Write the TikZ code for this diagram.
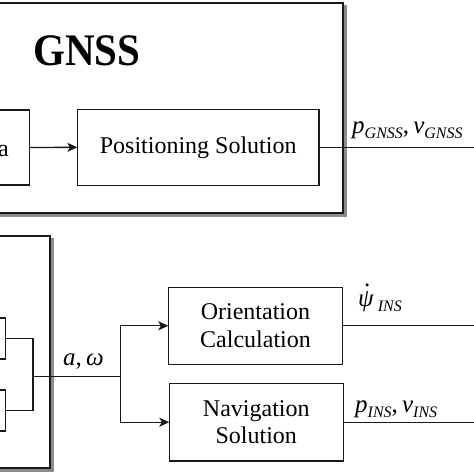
\documentclass[tikz,border=0pt]{standalone}
\usepackage{fontspec}
\setmainfont{Liberation Serif}
\usetikzlibrary{arrows.meta,shadows}
\newcommand{\mysub}[1]{\raisebox{-5pt}{\fontsize{16}{16}\selectfont\itshape #1}}
\newcommand{\dotpsi}{\ooalign{ψ\cr\hidewidth\kern2.5pt\raisebox{0.78em}{\upshape.}\hidewidth\cr}}
\begin{document}
\begin{tikzpicture}[x=1pt,y=-1pt,
  blk/.style={draw=black!90, line width=1.3pt, fill=white, inner sep=0pt, outer sep=0pt,
    font=\fontsize{24}{27.5}\selectfont, align=center},
  cont/.style={draw=black!90, line width=2pt, fill=white, inner sep=0pt, outer sep=0pt,
    copy shadow={shadow xshift=3pt, shadow yshift=-3pt, fill=black!45, draw=black!45}},
  con/.style={line width=1.3pt, draw=black!90},
  arr/.style={con, -{Stealth[length=10pt,width=9pt,inset=2.5pt]}},
  lbl/.style={inner sep=0pt, anchor=base west, font=\fontsize{25}{25}\selectfont\itshape},
]
\useasboundingbox (0,0) rectangle (474,474);
\clip (0,0) rectangle (474,474);
% GNSS container
\node[cont, minimum width=363pt, minimum height=210pt, anchor=north east] (gnss) at (343,3) {};
\node[inner sep=0pt, anchor=base, font=\fontsize{41}{41}\selectfont\bfseries] (gnsstitle) at (86.7,65) {\scalebox{1}[1.1]{GNSS}};
\node[blk, minimum width=80pt, minimum height=75pt, anchor=north east] (raw) at (29.3,110) {};
\node[inner sep=0pt, anchor=base east, font=\fontsize{24}{24}\selectfont] (rawtxt) at (9,156) {a};
\node[blk, minimum width=241.7pt, minimum height=76pt] (pos) at (198.2,147.3) {\raisebox{-1.5pt}{Positioning Solution}};
\draw[arr] (raw.east) -- (pos.west);
\coordinate (gout) at (474,147.3);
\draw[con] (pos.east) -- (gout);
\node[lbl] (glbl) at (352,133) {p\mysub{GNSS}\upshape,\,\itshape v\mysub{GNSS}};
% INS container
\node[cont, minimum width=120pt, minimum height=232pt, anchor=north east] (ins) at (50,236) {};
\node[blk, minimum width=40pt, minimum height=41pt, anchor=north east] (s1) at (5.3,318) {};
\node[blk, minimum width=40pt, minimum height=41pt, anchor=north east] (s2) at (5.3,390) {};
\coordinate (j1) at (33,376.7);
\coordinate (j2) at (120.7,376.7);
\draw[con] (s1.east) -| (j1);
\draw[con] (s2.east) -| (j1);
\draw[con] (j1) -- (j2);
\node[lbl] (aw) at (63,365) {a\upshape,\itshape\,ω};
\node[blk, minimum width=174.4pt, minimum height=77pt] (ori) at (255.5,325.8) {Orientation\\Calculation};
\node[blk, minimum width=174pt, minimum height=77.7pt] (nav) at (256.3,422.2) {Navigation\\Solution};
\draw[arr] (j2) |- (ori.west);
\draw[arr] (j2) |- (nav.west);
\coordinate (oout) at (474,325.8);
\coordinate (nout) at (474,422.2);
\draw[con] (ori.east) -- (oout);
\draw[con] (nav.east) -- (nout);
\node[lbl] (olbl) at (358,306) {\dotpsi\,\mysub{INS}};
\node[lbl] (nlbl) at (355,412) {p\mysub{INS}\upshape,\,\itshape v\mysub{INS}};
\end{tikzpicture}
\end{document}
